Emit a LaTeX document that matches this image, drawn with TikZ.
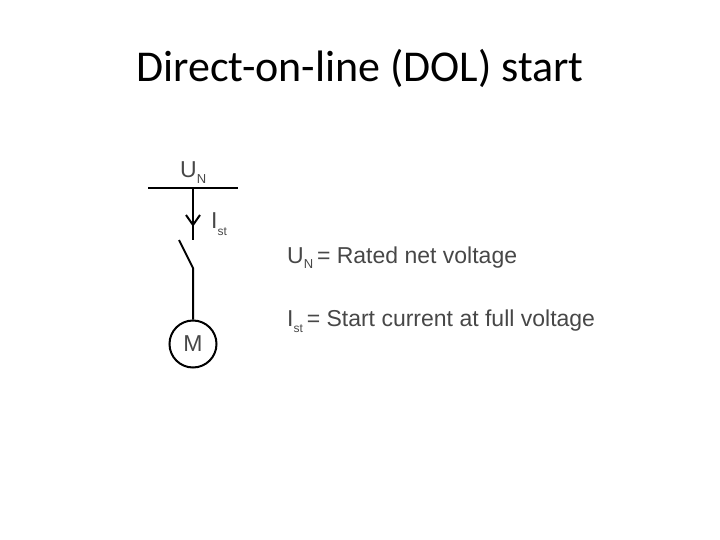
\documentclass[tikz,border=0pt]{standalone}
\usepackage{fontspec}
\setmainfont{Liberation Sans}
\newfontfamily\titlefont{Carlito}
\begin{document}
\begin{tikzpicture}[x=1pt,y=-1pt,
  wire/.style={line width=2pt,black},
  lbl/.style={text=black!72,font=\fontsize{23}{27}\selectfont,inner sep=0pt}]
\useasboundingbox (0,0) rectangle (720,540);
\node[font=\titlefont\fontsize{44}{50}\selectfont] (title) at (360,68) {Direct-on-line (DOL) start};
\coordinate (bl) at (148,188); \coordinate (br) at (238,188);
\coordinate (top) at (193,188);
\coordinate (fix) at (193,240);
\coordinate (bt) at (179,240);
\coordinate (pv) at (193,268);
\node[circle,draw,line width=2pt,minimum size=47pt,inner sep=0pt,lbl] (M) at (193,344) {M};
\draw[wire] (bl) -- (br);
\draw[wire] (top) -- (fix);
\draw[wire] (186,215) -- (193,225) -- (200,215);
\draw[wire] (bt) -- (pv) -- (M.north);
\node[lbl,anchor=base west] (un) at (180,178) {U\raisebox{-0.45ex}{\fontsize{13}{15}\selectfont N}};
\node[lbl,anchor=base west] (ist) at (211,229) {I\raisebox{-0.5ex}{\fontsize{12}{14}\selectfont st}};
\node[lbl,anchor=base west] (l1) at (287,263) {U\raisebox{-0.45ex}{\fontsize{13}{15}\selectfont N}\,= Rated net voltage};
\node[lbl,anchor=base west] (l2) at (287,326) {I\raisebox{-0.5ex}{\fontsize{12}{14}\selectfont st}\,= Start current at full voltage};
\end{tikzpicture}
\end{document}
